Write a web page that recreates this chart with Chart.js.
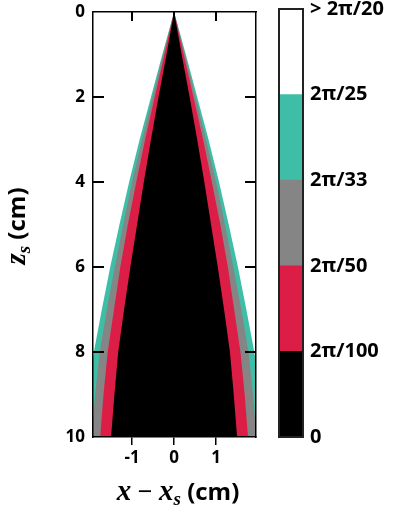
<!DOCTYPE html>
<html>
<head>
<meta charset="utf-8">
<script src="https://cdn.jsdelivr.net/npm/chart.js@4.4.0/dist/chart.umd.min.js"></script>
<style>
  body { margin: 0; background: #fff; }
  #wrap { position: relative; width: 420px; height: 528px; }
  #plot { position: absolute; left: 0; top: 0; }
  #bar { position: absolute; left: 270px; top: 0; }
</style>
</head>
<body>
<div id="wrap">
  <canvas id="plot" width="270" height="528"></canvas>
  <canvas id="bar" width="150" height="528"></canvas>
</div>
<script>
// depth below the source (cm) and half-width of each phase band (cm)
const depths = [0, 1, 2, 3, 4, 5, 6, 7, 8, 9, 10]
const blackEdge = [0, 0.18, 0.37, 0.55, 0.72, 0.88, 1.04, 1.19, 1.33, 1.42, 1.50]
const redEdge = [0, 0.23, 0.46, 0.69, 0.90, 1.10, 1.28, 1.43, 1.58, 1.68, 1.76]
const grayEdge = [0, 0.26, 0.51, 0.76, 1.00, 1.21, 1.41, 1.60, 1.77, 1.88, 1.96]
const tealEdge = [0, 0.28, 0.55, 0.82, 1.07, 1.30, 1.52, 1.72, 1.91, 2.06, 2.20]

const xMin = -1.93
const xMax = 1.95
const xTicks = [-1, 0, 1]
const zTicks = [0, 2, 4, 6, 8, 10]
const zInnerTicks = [2, 4, 6, 8]

const barLabels = ['0', '2π/100', '2π/50', '2π/33', '2π/25', '> 2π/20']
const barSteps = [1, 1, 1, 1, 1]
const barColors = ['#000000', '#dc1e46', '#858585', '#3fbea7', '#ffffff']

const tickFont = {family: 'Open Sans', size: 17, weight: 'bold'}
const mathFont = '"Liberation Serif"'

// left half mirrored onto right half, apex at top
const cone = edge => {
    let pts = []
    for (let i = depths.length - 1; i >= 0; i--) pts.push({x: -edge[i], y: depths[i]})
    for (let i = 1; i < depths.length; i++) pts.push({x: edge[i], y: depths[i]})
    return pts
}

const fixSize = (w, h) => scale => {
    if (w !== null) scale.width = w
    if (h !== null) scale.height = h
    scale.paddingTop = 0
    scale.paddingBottom = 0
    scale.paddingLeft = 0
    scale.paddingRight = 0
}

const drawRuns = (ctx, runs, cx, cy, angle) => {
    ctx.save()
    ctx.translate(cx, cy)
    ctx.rotate(angle)
    ctx.fillStyle = '#000'
    ctx.textBaseline = 'alphabetic'
    let total = 0
    runs.forEach(r => { ctx.font = r.font; r.w = ctx.measureText(r.text).width; total += r.w })
    let x = -total / 2
    runs.forEach(r => {
        ctx.font = r.font
        ctx.fillText(r.text, x, r.dy || 0)
        x += r.w
    })
    ctx.restore()
}

// axis titles with italic maths and subscripts, and inward tick marks
const frameExtras = {
    id: 'frameExtras',
    afterDraw(chart) {
        const ctx = chart.ctx
        const area = chart.chartArea
        const ys = chart.scales.y
        const xs = chart.scales.x
        ctx.save()
        ctx.fillStyle = '#000'
        for (const v of zInnerTicks) {
            const py = Math.round(ys.getPixelForValue(v))
            ctx.fillRect(area.left, py - 1, 11, 2)
            ctx.fillRect(area.right - 11, py - 1, 11, 2)
        }
        for (const v of xTicks) {
            const px = Math.round(xs.getPixelForValue(v))
            ctx.fillRect(px - 1, area.top, 2, 9)
        }
        ctx.restore()

        drawRuns(ctx, [
            {text: 'x', font: `italic bold 29px ${mathFont}`},
            {text: ' \u2212 ', font: `bold 26px ${mathFont}`},
            {text: 'x', font: `italic bold 29px ${mathFont}`},
            {text: 's', font: `italic bold 19px ${mathFont}`, dy: 5},
            {text: ' (cm)', font: 'bold 24px "Open Sans"'}
        ], 178, 500, 0)
        drawRuns(ctx, [
            {text: 'z', font: `italic bold 29px ${mathFont}`},
            {text: 's', font: `italic bold 19px ${mathFont}`, dy: 5},
            {text: ' (cm)', font: 'bold 24px "Open Sans"'}
        ], 25, 226, -Math.PI / 2)
    }
}

const bandEdges = [blackEdge, redEdge, grayEdge, tealEdge]

new Chart(document.getElementById('plot'), {
    type: 'line',
    data: {
        datasets: bandEdges.map((edge, i) => ({
            data: cone(edge),
            backgroundColor: barColors[i],
            borderColor: 'rgba(0,0,0,0)',
            borderWidth: 0,
            pointRadius: 0,
            fill: {value: 10}
        }))
    },
    options: {
        responsive: false,
        animation: false,
        plugins: {legend: {display: false}, tooltip: {enabled: false}},
        scales: {
            x: {
                type: 'linear', position: 'bottom', min: xMin, max: xMax,
                afterBuildTicks: a => { a.ticks = xTicks.map(v => ({value: v})) },
                afterFit: fixSize(null, 91),
                ticks: {font: tickFont, color: '#000', padding: 3},
                grid: {drawOnChartArea: false, tickLength: 8, color: '#000', lineWidth: 1.5},
                border: {display: true, color: '#000', width: 1.5, z: 1}
            },
            xTop: {
                type: 'linear', position: 'top', min: xMin, max: xMax,
                afterFit: fixSize(null, 12),
                ticks: {display: false},
                grid: {drawOnChartArea: false, drawTicks: false},
                border: {display: true, color: '#000', width: 1.5, z: 1}
            },
            y: {
                type: 'linear', position: 'left', min: 0, max: 10, reverse: true,
                afterBuildTicks: a => { a.ticks = zTicks.map(v => ({value: v})) },
                afterFit: fixSize(93, null),
                ticks: {font: tickFont, color: '#000', padding: 8},
                grid: {drawOnChartArea: false, drawTicks: false},
                border: {display: true, color: '#000', width: 1.5, z: 1}
            },
            yRight: {
                type: 'linear', position: 'right', min: 0, max: 10, reverse: true,
                afterFit: fixSize(14, null),
                ticks: {display: false},
                grid: {drawOnChartArea: false, drawTicks: false},
                border: {display: true, color: '#000', width: 1.5, z: 1}
            }
        }
    },
    plugins: [frameExtras]
})

// colour bar: one stacked column, one segment per phase band
new Chart(document.getElementById('bar'), {
    type: 'bar',
    data: {
        labels: [''],
        datasets: barSteps.map((v, i) => ({
            data: [v],
            backgroundColor: barColors[i],
            borderWidth: 0,
            barPercentage: 1,
            categoryPercentage: 1
        }))
    },
    options: {
        responsive: false,
        animation: false,
        plugins: {legend: {display: false}, tooltip: {enabled: false}},
        scales: {
            x: {
                stacked: true, position: 'bottom',
                afterFit: fixSize(null, 91),
                ticks: {display: false},
                grid: {drawOnChartArea: false, drawTicks: false},
                border: {display: true, color: '#222', width: 2, z: 1}
            },
            xTop: {
                type: 'linear', position: 'top', min: 0, max: 1,
                afterFit: fixSize(null, 9),
                ticks: {display: false},
                grid: {drawOnChartArea: false, drawTicks: false},
                border: {display: true, color: '#222', width: 2, z: 1}
            },
            y: {
                stacked: true, type: 'linear', position: 'right', min: 0, max: 5,
                afterBuildTicks: a => { a.ticks = barLabels.map((t, i) => ({value: i})) },
                afterFit: fixSize(117, null),
                ticks: {font: {family: 'Open Sans', size: 20, weight: 'bold'}, color: '#000', padding: 7,
                    callback: v => barLabels[v]},
                grid: {drawOnChartArea: false, drawTicks: false},
                border: {display: true, color: '#222', width: 2, z: 1}
            },
            yLeft: {
                type: 'linear', position: 'left', min: 0, max: 5,
                afterFit: fixSize(9, null),
                ticks: {display: false},
                grid: {drawOnChartArea: false, drawTicks: false},
                border: {display: true, color: '#222', width: 2, z: 1}
            }
        }
    }
})
</script>
</body>
</html>
